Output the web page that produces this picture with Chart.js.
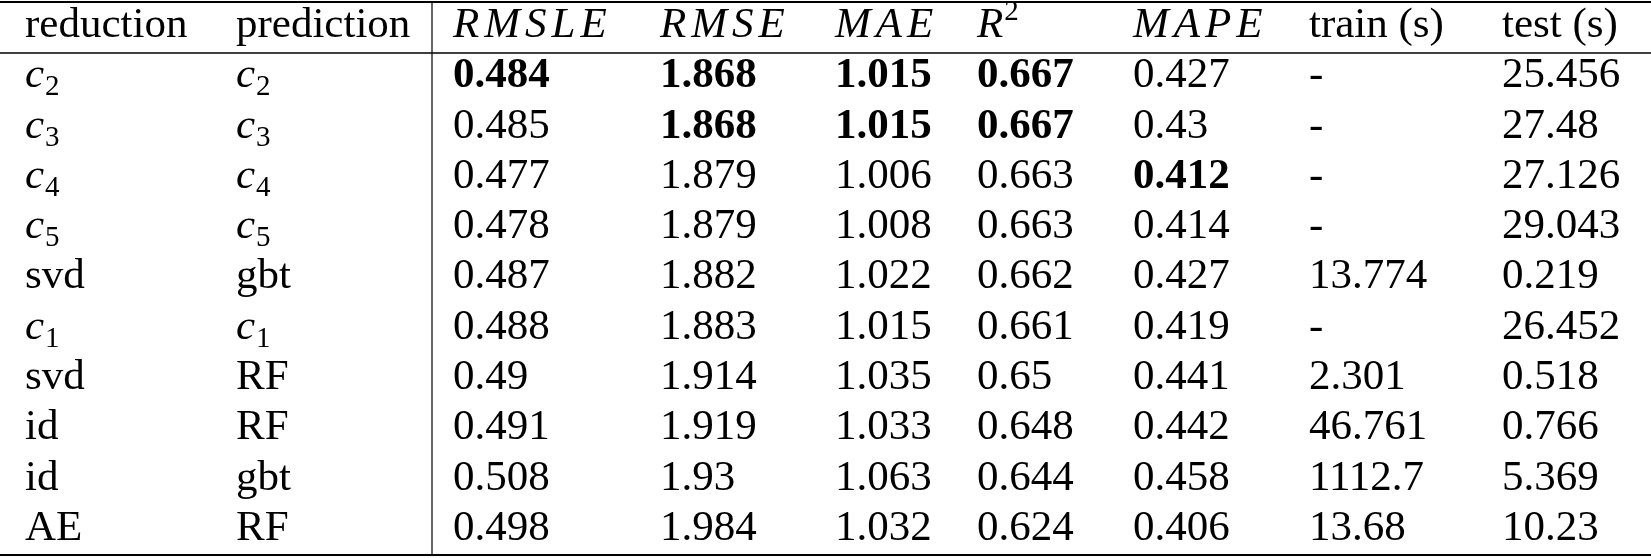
<!DOCTYPE html>
<html>
<head>
<meta charset="utf-8">
<script src="https://cdn.jsdelivr.net/npm/chart.js@4.4.1/dist/chart.umd.min.js"></script>
<style>
  html, body { margin: 0; padding: 0; background: #fff; }
  #table { display: block; }
</style>
</head>
<body>
<canvas id="table" width="1651" height="558"></canvas>
<script>
// table content ($...$ = math: italic letters, _x subscript, ^x superscript)
const headers = ["reduction", "prediction", "$RMSLE$", "$RMSE$", "$MAE$", "$R^2$", "$MAPE$", "train (s)", "test (s)"];
const reduction = ["$c_2$", "$c_3$", "$c_4$", "$c_5$", "svd", "$c_1$", "svd", "id", "id", "AE"];
const prediction = ["$c_2$", "$c_3$", "$c_4$", "$c_5$", "gbt", "$c_1$", "RF", "RF", "gbt", "RF"];
const rmsle = [0.484, 0.485, 0.477, 0.478, 0.487, 0.488, 0.49, 0.491, 0.508, 0.498];
const rmse = [1.868, 1.868, 1.879, 1.879, 1.882, 1.883, 1.914, 1.919, 1.93, 1.984];
const mae = [1.015, 1.015, 1.006, 1.008, 1.022, 1.015, 1.035, 1.033, 1.063, 1.032];
const r2 = [0.667, 0.667, 0.663, 0.663, 0.662, 0.661, 0.65, 0.648, 0.644, 0.624];
const mape = [0.427, 0.43, 0.412, 0.414, 0.427, 0.419, 0.441, 0.442, 0.458, 0.406];
const trainTime = [null, null, null, null, 13.774, null, 2.301, 46.761, 1112.7, 13.68];
const testTime = [25.456, 27.48, 27.126, 29.043, 0.219, 26.452, 0.518, 0.766, 5.369, 10.23];
// best values, set in bold (column index -> row indices)
const boldRows = { 2: [0], 3: [0, 1], 4: [0, 1], 5: [0, 1], 6: [2] };

// layout
const colLeft = [25, 236, 453, 660, 835, 977, 1133, 1309, 1502];
const splitX = 432;
const rules = [
  { y: -0.696, w: 2 },
  { y: 0.318, w: 1.3 },
  { y: 10.298, w: 2 },
];
const FONT = "'Liberation Serif', 'DejaVu Serif', serif";
const FS = 43;
const SMALL = 29;
const MATH_GAP = 5;

const columns = [reduction, prediction, rmsle, rmse, mae, r2, mape, trainTime, testTime];

const datasets = columns.map(function (col, c) {
  const bold = boldRows[c] || [];
  const pts = [{ x: colLeft[c], y: 0, text: headers[c], bold: false }];
  col.forEach(function (v, r) {
    pts.push({
      x: colLeft[c],
      y: r + 1,
      text: v === null ? "-" : String(v),
      bold: bold.indexOf(r) !== -1,
    });
  });
  return { label: headers[c], data: pts, pointRadius: 0 };
});

function drawRun(ctx, s, x, y, font) {
  ctx.font = font;
  ctx.fillText(s, x, y);
  return x + ctx.measureText(s).width;
}

function drawCell(ctx, str, x, y, bold) {
  const parts = str.split("$");
  parts.forEach(function (part, k) {
    if (k % 2 === 0) {
      if (part) x = drawRun(ctx, part, x, y, (bold ? "bold " : "") + FS + "px " + FONT);
      return;
    }
    for (let j = 0; j < part.length; j++) {
      const ch = part[j];
      if (ch === "_" || ch === "^") {
        const s = part[++j];
        x = drawRun(ctx, s, x + 1, y + (ch === "_" ? 8 : -17), SMALL + "px " + FONT);
      } else {
        x = drawRun(ctx, ch, x, y, "italic " + FS + "px " + FONT);
        const next = part[j + 1];
        if (next && /[A-Za-z]/.test(next)) x += MATH_GAP;
      }
    }
  });
}

const tableRules = {
  id: "tableRules",
  beforeDatasetsDraw(chart) {
    const ctx = chart.ctx;
    const xs = chart.scales.x;
    const ys = chart.scales.y;
    const area = chart.chartArea;
    ctx.save();
    ctx.strokeStyle = "#000";
    rules.forEach(function (r) {
      const py = ys.getPixelForValue(r.y);
      ctx.lineWidth = r.w;
      ctx.beginPath();
      ctx.moveTo(area.left, py);
      ctx.lineTo(area.right, py);
      ctx.stroke();
    });
    const vx = xs.getPixelForValue(splitX);
    ctx.lineWidth = 1.2;
    ctx.beginPath();
    ctx.moveTo(vx, ys.getPixelForValue(rules[0].y));
    ctx.lineTo(vx, ys.getPixelForValue(rules[2].y));
    ctx.stroke();
    ctx.restore();
  },
};

const cellText = {
  id: "cellText",
  afterDatasetsDraw(chart) {
    const ctx = chart.ctx;
    ctx.save();
    ctx.fillStyle = "#000";
    ctx.textAlign = "left";
    ctx.textBaseline = "alphabetic";
    chart.data.datasets.forEach(function (ds, di) {
      chart.getDatasetMeta(di).data.forEach(function (pt, i) {
        const d = ds.data[i];
        drawCell(ctx, d.text, pt.x, pt.y, d.bold);
      });
    });
    ctx.restore();
  },
};

new Chart(document.getElementById("table"), {
  type: "scatter",
  data: { datasets: datasets },
  options: {
    responsive: false,
    animation: false,
    events: [],
    layout: { padding: 0 },
    plugins: {
      legend: { display: false },
      tooltip: { enabled: false },
    },
    scales: {
      x: { type: "linear", display: false, min: 0, max: 1651 },
      y: { type: "linear", display: false, min: -0.7356, max: 10.358, reverse: true },
    },
  },
  plugins: [tableRules, cellText],
});
</script>
</body>
</html>
